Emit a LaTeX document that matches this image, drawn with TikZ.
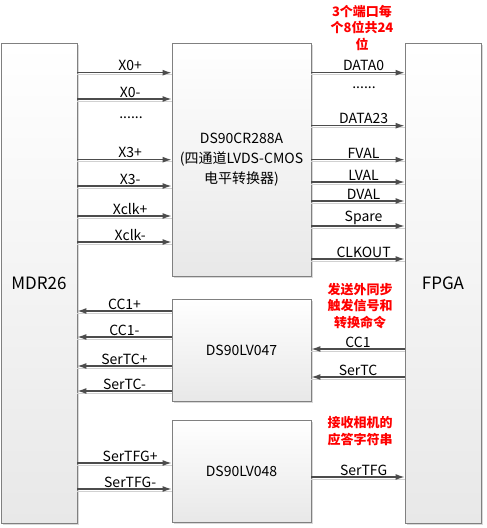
\documentclass[tikz,border=0pt]{standalone}
\usepackage{fontspec}
\setmainfont{Noto Sans CJK SC}
\usetikzlibrary{arrows.meta,shadows}

\begin{document}
\begin{tikzpicture}[x=1pt,y=-1pt,>={Latex[length=9pt,width=6pt]},font=\fontsize{14}{20}\selectfont]
\tikzstyle{block}=[rectangle,draw=black!50,line width=0.8pt,top color=white,bottom color=black!9,drop shadow={shadow xshift=2pt,shadow yshift=-2pt,fill=black!30},align=center,inner sep=0pt]
\tikzstyle{sig}=[->,draw=black!70,line width=1.3pt,preaction={draw=black!18,line width=1pt,-,transform canvas={yshift=-2pt}}]
\tikzstyle{lbl}=[above,inner sep=1pt,text=black]
\tikzstyle{note}=[text=red,font=\fontsize{13}{16.5}\selectfont\bfseries,align=center]
\useasboundingbox (0,0) rectangle (487,528);
% boxes
\node[block,minimum width=76pt,minimum height=480pt,font=\fontsize{17}{20}\selectfont] (mdr) at (39,283) {MDR26};
\node[block,minimum width=76pt,minimum height=480pt,font=\fontsize{17}{20}\selectfont] (fpga) at (443,283) {FPGA};
\node[block,minimum width=139pt,minimum height=233pt] (cr) at (241.5,159.5) {DS90CR288A\\(四通道LVDS-CMOS\\电平转换器)};
\node[block,minimum width=139pt,minimum height=102pt] (tx) at (241.5,350) {DS90LV047};
\node[block,minimum width=139pt,minimum height=102pt] (rx) at (241.5,471) {DS90LV048};
% LVDS inputs
\foreach \y/\t in {72.7/X0+,99/X0-,159.7/X3+,186/X3-,216/Xclk+,242/Xclk-}
  \draw[sig] (mdr.east |- 0,\y) -- node[lbl,pos=0.56]{\t} (cr.west |- 0,\y);
\node (dotsl) at (131,118) {......};
% CMOS outputs
\foreach \y/\t in {72.7/DATA0,125.7/DATA23,159.7/FVAL,182/LVAL,201/DVAL,226/Spare,259/CLKOUT}
  \draw[sig] (cr.east |- 0,\y) -- node[lbl,pos=0.56]{\t} (fpga.west |- 0,\y);
\node (dotsr) at (364,88) {......};
% control to camera
\foreach \y/\t in {311/CC1+,337/CC1-,366/SerTC+,391/SerTC-}
  \draw[sig] (tx.west |- 0,\y) -- node[lbl]{\t} (mdr.east |- 0,\y);
\foreach \y/\t in {349/CC1,377/SerTC}
  \draw[sig] (fpga.west |- 0,\y) -- node[lbl]{\t} (tx.east |- 0,\y);
% camera reply
\foreach \y/\t in {463/SerTFG+,489/SerTFG-}
  \draw[sig] (mdr.east |- 0,\y) -- node[lbl,pos=0.56]{\t} (rx.west |- 0,\y);
\draw[sig] (rx.east |- 0,477) -- node[lbl,pos=0.56]{SerTFG} (fpga.west |- 0,477);
% notes
\node[note] (n1) at (362,28) {3个端口每\\个8位共24\\位};
\node[note] (n2) at (360,306) {发送外同步\\触发信号和\\转换命令};
\node[note] (n3) at (360,431) {接收相机的\\应答字符串};
\end{tikzpicture}
\end{document}
